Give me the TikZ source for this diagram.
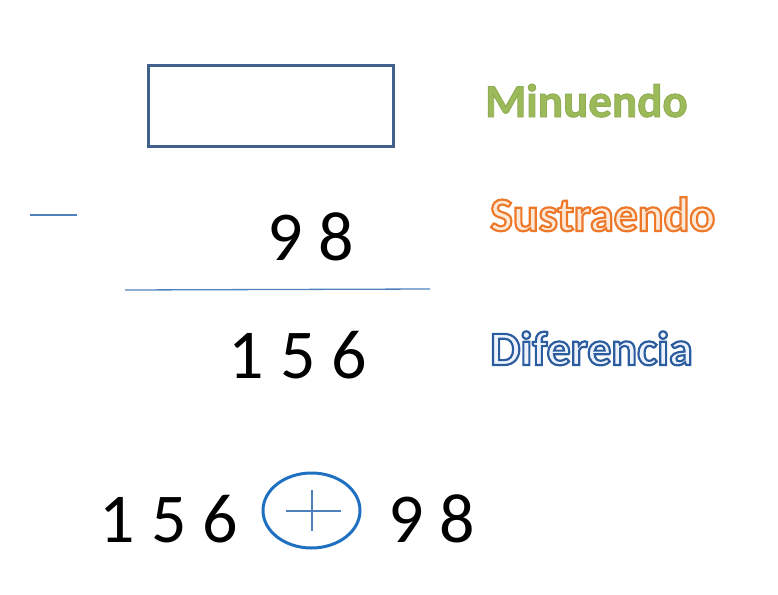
\documentclass[tikz,border=0pt]{standalone}
\usetikzlibrary{shapes.geometric}
\usepackage{fontspec}
\setmainfont{Carlito}
\newfontfamily\lblfont[FakeBold=2]{Carlito Bold}
\newfontfamily\lblfontthick[FakeBold=4.5]{Carlito Bold}
\definecolor{boxblue}{HTML}{41608A}
\definecolor{lineblue}{HTML}{4F81BD}
\definecolor{ovalblue}{HTML}{1F70C1}
\tikzset{
  num/.style={font=\fontsize{70}{70}\selectfont, anchor=base, inner sep=0pt},
  lbl/.style={font=\fontsize{47}{47}\selectfont\lblfont, anchor=base west, inner sep=0pt},
  lblthick/.style={font=\fontsize{48}{48}\selectfont\lblfontthick, anchor=base west, inner sep=0pt},
  thin/.style={draw=lineblue, line width=1.3pt},
}
% fill colour, stroke colour
\newcommand{\fillstroke}[3]{\special{pdf:bcolor [#1] [#2]}#3\special{pdf:ecolor}}
\begin{document}
\begin{tikzpicture}[x=1pt,y=-1pt]
\useasboundingbox (0,0) rectangle (778,594);
% minuend box
\node[draw=boxblue, line width=3pt, minimum width=245pt, minimum height=81pt, inner sep=0pt] (box) at (270.5,105.5) {};
% minus sign
\coordinate (m1) at (30,215);
\coordinate (m2) at (77,215);
\draw[thin] (m1) -- (m2);
% subtrahend
\node[num] (sub) at (310.5,260) {9 8};
% result line
\coordinate (l1) at (125,290);
\coordinate (l2) at (430,289);
\draw[thin] (l1) -- (l2);
% difference
\node[num] (dif) at (298,378) {1 5 6};
% bottom row
\node[num] (a) at (169,542) {1 5 6};
\node[draw=ovalblue, line width=3pt, ellipse, minimum width=97pt, minimum height=75pt, inner sep=0pt] (ov) at (311.5,510.5) {};
\coordinate (ph1) at (286,511);
\coordinate (ph2) at (341,511);
\coordinate (pv1) at (312,490);
\coordinate (pv2) at (312,531);
\draw[thin] (ph1) -- (ph2);
\draw[thin] (pv1) -- (pv2);
\node[num] (b) at (431.5,542) {9 8};
% labels
\node[lbl] (min) at (485,117) {\fillstroke{0.61 0.73 0.35}{0.56 0.68 0.32}{Minuendo}};
\node[lblthick] (sus) at (490,231) {\fillstroke{0.99 0.91 0.84}{0.93 0.47 0.16}{Sustraendo}};
\node[lblthick] (diflbl) at (490,365) {\fillstroke{0.93 0.95 0.99}{0.17 0.36 0.62}{Diferencia}};
\end{tikzpicture}
\end{document}
